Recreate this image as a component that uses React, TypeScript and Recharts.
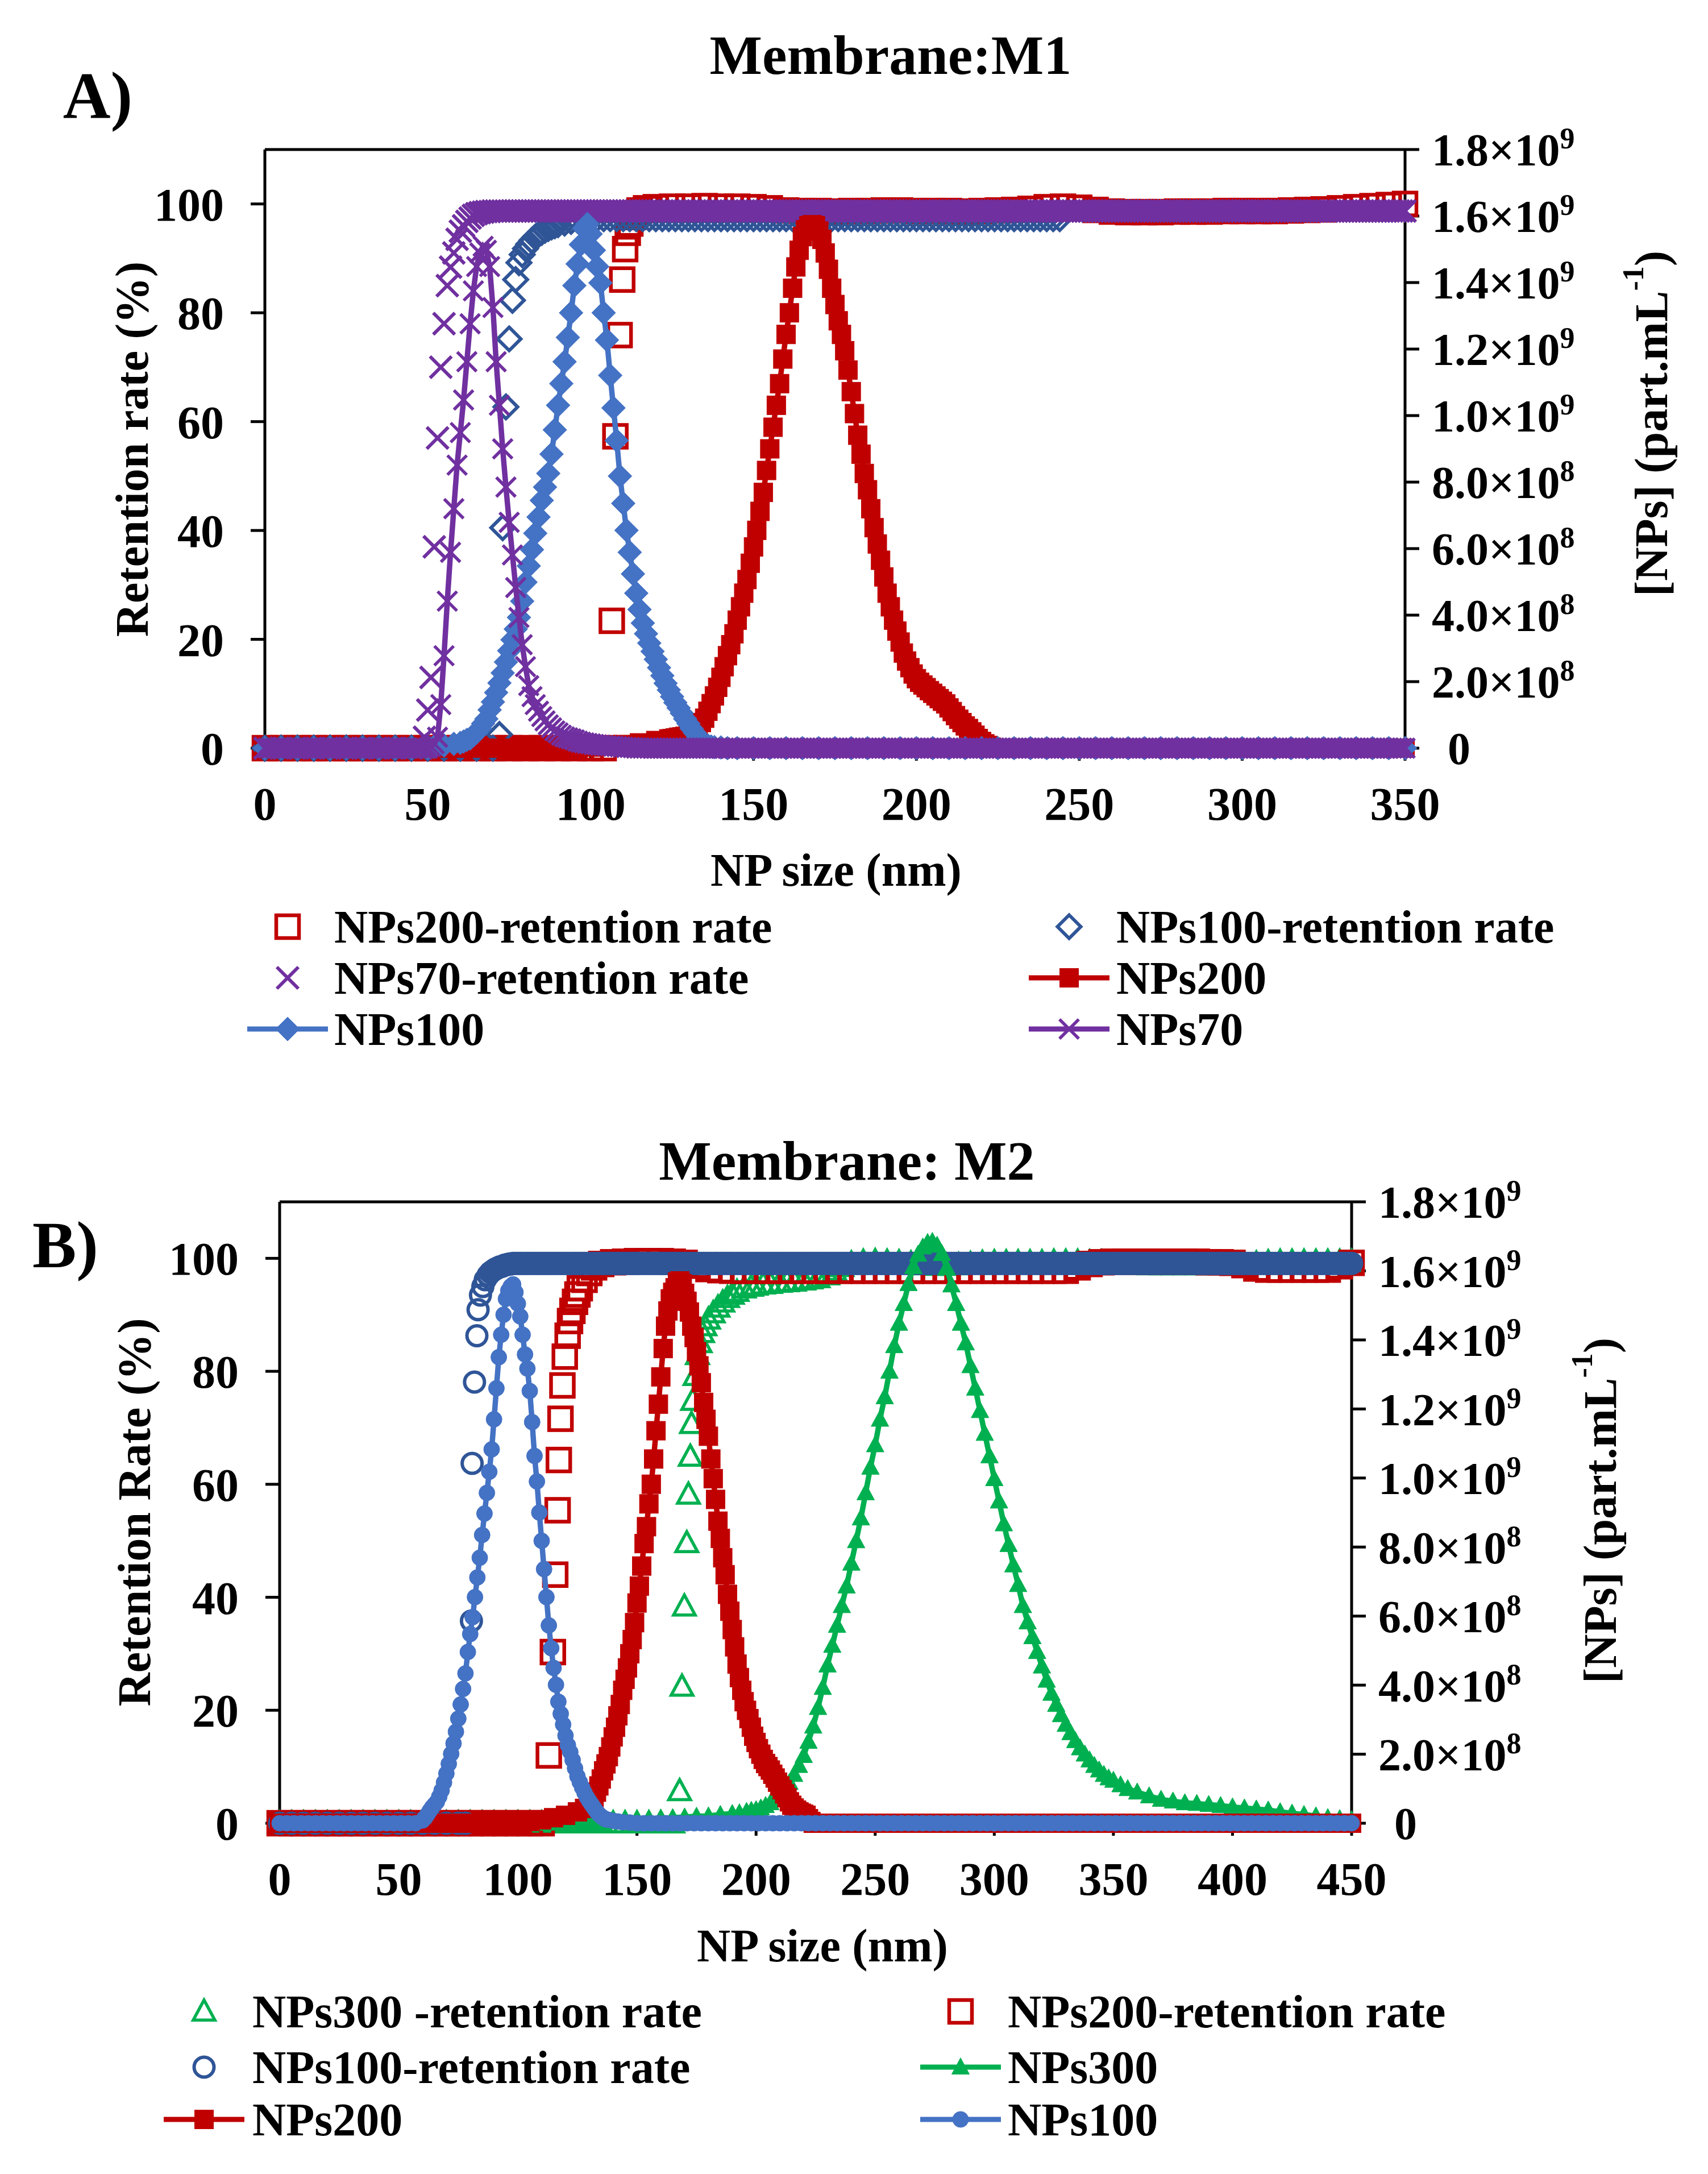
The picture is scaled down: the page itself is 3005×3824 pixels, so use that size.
import React from "react";
import { ComposedChart, Scatter, XAxis, YAxis, ReferenceLine } from "recharts";

type Pt = [number, number];
type Kind = "square" | "diamond" | "x" | "circle" | "triangle";
type Mk = { kind: Kind; color: string; size: number; filled: boolean; sw: number };

const FONT = "'Liberation Serif', 'Times New Roman', serif";
const RED = "#C00000";
const PURPLE = "#7030A0";
const NAVY = "#2F5597";
const BLUE = "#4472C4";
const GREEN = "#00B050";

// axis ticks
const sizeTicksA = [0, 50, 100, 150, 200, 250, 300, 350];
const sizeTicksB = [0, 50, 100, 150, 200, 250, 300, 350, 400, 450];
const rateTicks = [0, 20, 40, 60, 80, 100];
const concTicks = [0, 2, 4, 6, 8, 10, 12, 14, 16, 18]; // x10^8 part/mL

// ---------- Membrane M1 : [size nm, retention %] ----------
const ret200A: Pt[] = [
  [0,0],[5,0],[10,0],[15,0],[20,0],[25,0],[30,0],[35,0],[40,0],[45,0],[50,0],[55,0],[60,0],[65,0],[70,0],[75,0],[80,0],[85,0],[90,0],[95,0],[100,0],[104,0],
  [106.5,23.4],[107.6,57.3],[108.9,75.9],[109.7,86.1],[110.6,91.7],[111.4,94.7],[112.2,96.4],[113,97.6],[114,98.3],[115,98.8],[117,99.2],[120,99.4],
  [125,99.5],[130,99.5],[135,99.6],[140,99.5],[145,99.5],[150,99.4],[155,99.2],[160,98.8],[165,98.7],[170,98.7],[175,98.6],[180,98.7],[185,98.7],
  [190,98.8],[195,98.8],[200,98.7],[205,98.7],[210,98.7],[215,98.6],[220,98.7],[225,98.8],[230,98.9],[235,99.1],[240,99.4],[245,99.5],[250,99.3],
  [255,98.9],[260,98.6],[265,98.5],[270,98.5],[275,98.5],[280,98.6],[285,98.6],[290,98.6],[295,98.7],[300,98.7],[305,98.7],[310,98.7],[315,98.8],
  [320,98.9],[325,99],[330,99.2],[335,99.4],[340,99.6],[345,99.8],[350,100],
];

const ret100A: Pt[] = [
  [0,0],[5,0],[10,0],[15,0],[20,0],[25,0],[30,0],[35,0],[40,0],[45,0],[50,0],[55,0],[60,0],[65,0],[70,0],[72,2.5],
  [73,40.5],[74,62.7],[75,75.2],[76,82.3],[77,86.1],[78,89.2],[79,90.7],[80,91.8],[81,92.6],[82,93.3],[83,93.9],[84,94.4],[85,94.8],
  [86,95.2],[87,95.5],[88,95.8],[89,96],[90,96.2],[92,96.5],[94,96.8],[96,97],[98,97.1],[100,97.2],
  [102,97.3],[104,97.3],[106,97.3],[108,97.3],[110,97.3],[112,97.3],[114,97.3],[116,97.3],[118,97.3],[120,97.3],
  [122,97.3],[124,97.3],[126,97.3],[128,97.3],[130,97.3],[132,97.3],[134,97.3],[136,97.3],[138,97.3],[140,97.3],
  [142,97.3],[144,97.3],[146,97.3],[148,97.3],[150,97.3],[152,97.3],[154,97.3],[156,97.3],[158,97.3],[160,97.3],
  [162,97.3],[164,97.3],[166,97.3],[168,97.3],[170,97.3],[172,97.3],[174,97.3],[176,97.3],[178,97.3],[180,97.3],
  [182,97.3],[184,97.3],[186,97.3],[188,97.3],[190,97.3],[192,97.3],[194,97.3],[196,97.3],[198,97.3],[200,97.3],
  [202,97.3],[204,97.3],[206,97.3],[208,97.3],[210,97.3],[212,97.3],[214,97.3],[216,97.3],[218,97.3],[220,97.3],
  [222,97.3],[224,97.3],[226,97.3],[228,97.3],[230,97.3],[232,97.3],[234,97.3],[236,97.3],[238,97.3],[240,97.3],
  [242,97.3],[244,97.3],
];

const ret70A: Pt[] = [
  [0,0],[5,0],[10,0],[15,0],[20,0],[25,0],[30,0],[35,0],[40,0],[45,0],[48,0],
  [49,2],[50,7],[51,13],[52,37],[53,57],[54,70],[55,78],[56,85],[57,88.4],[58,91],[59,93.5],[60,95],[61,96],[62,96.8],
  [63,97.4],[64,97.9],[65,98.2],[66,98.4],[67,98.5],[68,98.6],[69,98.6],[70,98.7],
  [71,98.7],[72,98.7],[73,98.7],[74,98.7],[75,98.7],[76,98.7],[77,98.7],[78,98.7],[79,98.7],[80,98.7],
  [81,98.7],[82,98.7],[83,98.7],[84,98.7],[85,98.7],[86,98.7],[87,98.7],[88,98.7],[89,98.7],[90,98.7],
  [91,98.7],[92,98.7],[93,98.7],[94,98.7],[95,98.7],[96,98.7],[97,98.7],[98,98.7],[99,98.7],[100,98.7],
  [101,98.7],[102,98.7],[103,98.7],[104,98.7],[105,98.7],[106,98.7],[107,98.7],[108,98.7],[109,98.7],[110,98.7],
  [111,98.7],[112,98.7],[113,98.7],[114,98.7],[115,98.7],[116,98.7],[117,98.7],[118,98.7],[119,98.7],[120,98.7],
  [121,98.7],[122,98.7],[123,98.7],[124,98.7],[125,98.7],[126,98.7],[127,98.7],[128,98.7],[129,98.7],[130,98.7],
  [131,98.7],[132,98.7],[133,98.7],[134,98.7],[135,98.7],[136,98.7],[137,98.7],[138,98.7],[139,98.7],[140,98.7],
  [141,98.7],[142,98.7],[143,98.7],[144,98.7],[145,98.7],[146,98.7],[147,98.7],[148,98.7],[149,98.7],[150,98.7],
  [151,98.7],[152,98.7],[153,98.7],[154,98.7],[155,98.7],[156,98.7],[157,98.7],[158,98.7],[159,98.7],[160,98.7],
  [161,98.7],[162,98.7],[163,98.7],[164,98.7],[165,98.7],[166,98.7],[167,98.7],[168,98.7],[169,98.7],[170,98.7],
  [171,98.7],[172,98.7],[173,98.7],[174,98.7],[175,98.7],[176,98.7],[177,98.7],[178,98.7],[179,98.7],[180,98.7],
  [181,98.7],[182,98.7],[183,98.7],[184,98.7],[185,98.7],[186,98.7],[187,98.7],[188,98.7],[189,98.7],[190,98.7],
  [191,98.7],[192,98.7],[193,98.7],[194,98.7],[195,98.7],[196,98.7],[197,98.7],[198,98.7],[199,98.7],[200,98.7],
  [201,98.7],[202,98.7],[203,98.7],[204,98.7],[205,98.7],[206,98.7],[207,98.7],[208,98.7],[209,98.7],[210,98.7],
  [211,98.7],[212,98.7],[213,98.7],[214,98.7],[215,98.7],[216,98.7],[217,98.7],[218,98.7],[219,98.7],[220,98.7],
  [221,98.7],[222,98.7],[223,98.7],[224,98.7],[225,98.7],[226,98.7],[227,98.7],[228,98.7],[229,98.7],[230,98.7],
  [231,98.7],[232,98.7],[233,98.7],[234,98.7],[235,98.7],[236,98.7],[237,98.7],[238,98.7],[239,98.7],[240,98.7],
  [241,98.7],[242,98.7],[243,98.7],[244,98.7],[245,98.7],[246,98.7],[247,98.7],[248,98.7],[249,98.7],[250,98.7],
  [251,98.7],[252,98.7],[253,98.7],[254,98.7],[255,98.7],[256,98.7],[257,98.7],[258,98.7],[259,98.7],[260,98.7],
  [261,98.7],[262,98.7],[263,98.7],[264,98.7],[265,98.7],[266,98.7],[267,98.7],[268,98.7],[269,98.7],[270,98.7],
  [271,98.7],[272,98.7],[273,98.7],[274,98.7],[275,98.7],[276,98.7],[277,98.7],[278,98.7],[279,98.7],[280,98.7],
  [281,98.7],[282,98.7],[283,98.7],[284,98.7],[285,98.7],[286,98.7],[287,98.7],[288,98.7],[289,98.7],[290,98.7],
  [291,98.7],[292,98.7],[293,98.7],[294,98.7],[295,98.7],[296,98.7],[297,98.7],[298,98.7],[299,98.7],[300,98.7],
  [301,98.7],[302,98.7],[303,98.7],[304,98.7],[305,98.7],[306,98.7],[307,98.7],[308,98.7],[309,98.7],[310,98.7],
  [311,98.7],[312,98.7],[313,98.7],[314,98.7],[315,98.7],[316,98.7],[317,98.7],[318,98.7],[319,98.7],[320,98.7],
  [321,98.7],[322,98.7],[323,98.7],[324,98.7],[325,98.7],[326,98.7],[327,98.7],[328,98.7],[329,98.7],[330,98.7],
  [331,98.7],[332,98.7],[333,98.7],[334,98.7],[335,98.7],[336,98.7],[337,98.7],[338,98.7],[339,98.7],[340,98.7],
  [341,98.7],[342,98.7],[343,98.7],[344,98.7],[345,98.7],[346,98.7],[347,98.7],[348,98.7],[349,98.7],[350,98.7],
];

// ---------- Membrane M1 : [size nm, concentration x10^8 part/mL] ----------
const conc200A: Pt[] = [
  [0,0],[5,0],[10,0],[15,0],[20,0],[25,0],[30,0],[35,0],[40,0],[45,0],[50,0],[55,0],[60,0],[65,0],[70,0],[75,0],[80,0],[85,0],[90,0],[95,0],
  [100,0.03],[105,0.07],[110,0.11],[115,0.16],[120,0.23],[124,0.28],[125,0.29],[126,0.31],[127,0.33],[128,0.34],[129,0.36],
  [130,0.39],[131,0.43],[132,0.52],[133,0.64],[134,0.77],[135,0.9],[136,1.11],[137,1.34],[138,1.57],[139,1.83],
  [140,2.13],[141,2.45],[142,2.78],[143,3.11],[144,3.44],[145,3.85],[146,4.25],[147,4.66],[148,5.07],[149,5.56],
  [150,6.05],[151,6.55],[152,7.12],[153,7.69],[154,8.35],[155,9.0],[156,9.65],[157,10.31],[158,10.96],[159,11.7],
  [160,12.44],[161,13.09],[162,13.83],[163,14.47],[164,14.97],[165,15.38],[166,15.59],[167,15.71],[168,15.74],[169,15.71],
  [170,15.55],[171,15.3],[172,14.89],[173,14.4],[174,13.83],[175,13.34],[176,12.85],[177,12.44],[178,11.95],[179,11.37],
  [180,10.72],[181,10.06],[182,9.41],[183,8.84],[184,8.26],[185,7.77],[186,7.2],[187,6.63],[188,6.14],[189,5.65],
  [190,5.15],[191,4.66],[192,4.25],[193,3.85],[194,3.52],[195,3.19],[196,2.86],[197,2.62],[198,2.42],[199,2.23],
  [200,2.09],[201,1.98],[202,1.9],[203,1.82],[204,1.73],[205,1.65],[206,1.57],[207,1.49],[208,1.41],[209,1.33],
  [210,1.21],[211,1.1],[212,0.98],[213,0.87],[214,0.77],[215,0.67],[216,0.59],[217,0.49],[218,0.39],[219,0.29],
  [220,0.2],[221,0.13],[222,0.08],[223,0.03],[224,0],
  [230,0],[235,0],[240,0],[245,0],[250,0],[255,0],[260,0],[265,0],[270,0],[275,0],[280,0],[285,0],[290,0],[295,0],
  [300,0],[305,0],[310,0],[315,0],[320,0],[325,0],[330,0],[335,0],[340,0],[345,0],[350,0],
];

const conc100A: Pt[] = [
  [0,0],[5,0],[10,0],[15,0],[20,0],[25,0],[30,0],[35,0],[40,0],[45,0],[50,0],[52,0.05],[55,0.08],[58,0.13],
  [60,0.16],[61,0.2],[62,0.25],[63,0.29],[64,0.38],[65,0.47],[66,0.59],[67,0.74],[68,0.88],[69,1.15],
  [70,1.39],[71,1.67],[72,1.96],[73,2.26],[74,2.59],[75,2.93],[76,3.26],[77,3.58],[78,3.93],[79,4.42],
  [80,4.99],[81,5.48],[82,5.97],[83,6.46],[84,6.95],[85,7.45],[86,7.85],[87,8.26],[88,8.84],[89,9.57],
  [90,10.31],[91,10.96],[92,11.62],[93,12.35],[94,13.09],[95,13.91],[96,14.56],[97,15.14],[98,15.63],[99,15.76],
  [100,15.46],[101,14.97],[102,14.48],[103,13.99],[104,13.09],[105,12.27],[106,11.21],[107,10.23],[108,9.25],[109,8.18],
  [110,7.36],[111,6.55],[112,5.89],[113,5.24],[114,4.66],[115,4.17],[116,3.76],[117,3.44],[118,3.16],[119,2.91],
  [120,2.67],[121,2.42],[122,2.18],[123,1.95],[124,1.75],[125,1.55],[126,1.37],[127,1.21],[128,1.05],[129,0.88],
  [130,0.74],[131,0.59],[132,0.46],[133,0.33],[134,0.21],[135,0.13],[136,0.08],[137,0.05],[138,0.03],[140,0.02],[142,0],
  [145,0],[150,0],[155,0],[160,0],[165,0],[170,0],[175,0],[180,0],[185,0],[190,0],[195,0],[200,0],[205,0],[210,0],
  [215,0],[220,0],[225,0],[230,0],[235,0],[240,0],[245,0],[250,0],[255,0],[260,0],[265,0],[270,0],[275,0],[280,0],
  [285,0],[290,0],[295,0],[300,0],[305,0],[310,0],[315,0],[320,0],[325,0],[330,0],[335,0],[340,0],[345,0],[350,0],
];

const conc70A: Pt[] = [
  [0,0],[1,0],[2,0],[3,0],[4,0],[5,0],[6,0],[7,0],[8,0],[9,0],[10,0],
  [11,0],[12,0],[13,0],[14,0],[15,0],[16,0],[17,0],[18,0],[19,0],[20,0],
  [21,0],[22,0],[23,0],[24,0],[25,0],[26,0],[27,0],[28,0],[29,0],[30,0],
  [31,0],[32,0],[33,0],[34,0],[35,0],[36,0],[37,0],[38,0],[39,0],[40,0],
  [41,0],[42,0],[43,0],[44,0],[45,0],[46,0],[47,0],[48,0],[49,0],[50,0],
  [51,0.05],[52,0.13],[53,0.33],[54,1.31],[55,2.78],[56,4.42],[57,5.89],[58,7.2],[59,8.51],
  [60,9.49],[61,10.47],[62,11.62],[63,12.76],[64,13.75],[65,14.48],[66,14.89],[67,15.09],[68,14.97],[69,14.48],
  [70,13.25],[71,11.62],[72,10.31],[73,9.0],[74,7.85],[75,6.79],[76,5.81],[77,4.83],[78,3.93],[79,3.11],
  [80,2.45],[81,1.88],[82,1.55],[83,1.31],[84,1.11],[85,0.95],[86,0.82],[87,0.7],[88,0.61],[89,0.52],
  [90,0.46],[91,0.39],[92,0.34],[93,0.31],[94,0.28],[95,0.25],[96,0.21],[97,0.18],[98,0.16],[99,0.14],
  [100,0.13],[101,0.11],[102,0.1],[103,0.09],[104,0.08],[105,0.07],[106,0.07],[107,0.06],[108,0.05],[109,0.04],
  [110,0.03],[111,0.02],[112,0.02],[113,0.01],[114,0],[115,0],[116,0],[117,0],[118,0],[119,0],[120,0],
  [121,0],[122,0],[123,0],[124,0],[125,0],[126,0],[127,0],[128,0],[129,0],[130,0],
  [131,0],[132,0],[133,0],[134,0],[135,0],[136,0],[137,0],[138,0],[139,0],[140,0],
  [141,0],[142,0],[143,0],[144,0],[145,0],[146,0],[147,0],[148,0],[149,0],[150,0],
  [151,0],[152,0],[153,0],[154,0],[155,0],[156,0],[157,0],[158,0],[159,0],[160,0],
  [161,0],[162,0],[163,0],[164,0],[165,0],[166,0],[167,0],[168,0],[169,0],[170,0],
  [171,0],[172,0],[173,0],[174,0],[175,0],[176,0],[177,0],[178,0],[179,0],[180,0],
  [181,0],[182,0],[183,0],[184,0],[185,0],[186,0],[187,0],[188,0],[189,0],[190,0],
  [191,0],[192,0],[193,0],[194,0],[195,0],[196,0],[197,0],[198,0],[199,0],[200,0],
  [201,0],[202,0],[203,0],[204,0],[205,0],[206,0],[207,0],[208,0],[209,0],[210,0],
  [211,0],[212,0],[213,0],[214,0],[215,0],[216,0],[217,0],[218,0],[219,0],[220,0],
  [221,0],[222,0],[223,0],[224,0],[225,0],[226,0],[227,0],[228,0],[229,0],[230,0],
  [231,0],[232,0],[233,0],[234,0],[235,0],[236,0],[237,0],[238,0],[239,0],[240,0],
  [241,0],[242,0],[243,0],[244,0],[245,0],[246,0],[247,0],[248,0],[249,0],[250,0],
  [251,0],[252,0],[253,0],[254,0],[255,0],[256,0],[257,0],[258,0],[259,0],[260,0],
  [261,0],[262,0],[263,0],[264,0],[265,0],[266,0],[267,0],[268,0],[269,0],[270,0],
  [271,0],[272,0],[273,0],[274,0],[275,0],[276,0],[277,0],[278,0],[279,0],[280,0],
  [281,0],[282,0],[283,0],[284,0],[285,0],[286,0],[287,0],[288,0],[289,0],[290,0],
  [291,0],[292,0],[293,0],[294,0],[295,0],[296,0],[297,0],[298,0],[299,0],[300,0],
  [301,0],[302,0],[303,0],[304,0],[305,0],[306,0],[307,0],[308,0],[309,0],[310,0],
  [311,0],[312,0],[313,0],[314,0],[315,0],[316,0],[317,0],[318,0],[319,0],[320,0],
  [321,0],[322,0],[323,0],[324,0],[325,0],[326,0],[327,0],[328,0],[329,0],[330,0],
  [331,0],[332,0],[333,0],[334,0],[335,0],[336,0],[337,0],[338,0],[339,0],[340,0],
  [341,0],[342,0],[343,0],[344,0],[345,0],[346,0],[347,0],[348,0],[349,0],[350,0],
];

// ---------- Membrane M2 : [size nm, retention %] ----------
const ret300B: Pt[] = [
  [0,0],[5,0],[10,0],[15,0],[20,0],[25,0],[30,0],[35,0],[40,0],[45,0],[50,0],[55,0],[60,0],[65,0],[70,0],[75,0],[80,0],
  [85,0],[90,0],[95,0],[100,0],[105,0],[110,0],[115,0],[120,0],[125,0],[130,0],[135,0],[140,0],[145,0],[150,0],[155,0],[160,0],[165,0],
  [167.9,5.7],[168.9,24.2],[169.9,38.4],[170.9,49.6],[171.6,58.2],[172.4,64.9],[172.9,70.7],[173.4,74.8],[174.4,79.2],[175.4,82.9],
  [176.5,85],[177.5,86.8],[178.5,88],[180,89.2],[182,90.3],[184,91.3],[186,92.2],[188,93],[190,93.6],[192,94.1],[195,94.7],[198,95],[200,95.2],
  [203,95.4],[206,95.5],[210,95.7],[213,95.8],[216,95.9],[220,96.1],[223,96.3],[226,96.5],[230,97],[233,97.8],[236,98.5],[240,99.1],[245,99.4],[250,99.5],[255,99.4],
  [260,99.3],[265,99.1],[270,98.8],[275,98.7],[280,98.7],[285,98.8],[290,99],[295,99.2],[300,99.3],[305,99.3],[310,99.3],
  [315,99.3],[320,99.3],[325,99.4],[330,99.4],[335,99.4],[340,99.3],[345,99.3],[350,99.2],[355,99.1],[360,98.9],
  [365,98.8],[370,98.8],[375,98.8],[380,98.8],[385,98.8],[390,98.8],[395,98.8],[400,98.9],[405,99],[410,99.1],[415,99.3],
  [420,99.4],[425,99.4],[430,99.4],[435,99.4],[440,99.4],[445,99.4],[450,99.4],
];

const ret200B: Pt[] = [
  [0,0],[5,0],[10,0],[15,0],[20,0],[25,0],[30,0],[35,0],[40,0],[45,0],[50,0],[55,0],[60,0],[65,0],[70,0],[75,0],[80,0],
  [85,0],[90,0],[95,0],[100,0],[105,0],[110,0],
  [113,12],[114.7,30.3],[115.7,44],[116.7,55.4],[117.2,64.3],[117.9,71.6],[118.7,77.5],[119.7,82.6],[120.9,86.3],[121.9,88.9],
  [122.9,90.7],[124,92.3],[125,93.6],[126,94.7],[128,96.2],[130,97.4],[132,98.4],[135,99],[140,99.3],[145,99.4],[150,99.5],
  [155,99.5],[160,99.5],[165,99.4],[170,99.2],[175,98.7],[180,98.1],[185,97.9],[190,97.8],[195,97.8],[200,97.8],[205,97.8],
  [210,97.8],[215,97.8],[220,97.8],[225,97.8],[230,97.8],[235,97.8],[240,97.8],[245,97.8],[250,97.8],[255,97.8],[260,97.8],
  [265,97.8],[270,97.8],[275,97.8],[280,97.8],[285,97.8],[290,97.8],[295,97.8],[300,97.8],[305,97.8],[310,97.8],[315,97.8],
  [320,97.8],[325,97.8],[330,97.8],[335,98.4],[340,99],[345,99.3],[350,99.4],[355,99.4],[360,99.4],[365,99.4],
  [370,99.4],[375,99.4],[380,99.4],[385,99.4],[390,99.3],[395,99.3],[400,99.2],[405,98.8],[410,98.2],[415,98],
  [420,98],[425,98],[430,98],[435,98],[440,98],[445,98.6],[450,99.2],
];

const ret100B: Pt[] = [
  [0,0],[5,0],[10,0],[15,0],[20,0],[25,0],[30,0],[35,0],[40,0],[45,0],[50,0],[55,0],[60,0],[65,0],[70,0],[75,0],[78,0],
  [80.5,35.8],[80.8,63.7],[81.8,78.1],[82.8,86.3],[83.3,90.9],[84.3,93.5],[85.3,95],[86.3,96.2],[87.5,97],[88.5,97.5],
  [89.5,97.8],[90.5,98.1],[91.5,98.3],[92.5,98.5],[93.5,98.6],[94.5,98.8],[95.5,98.9],[96.5,99],
  [97,99],[98,99.1],[99,99.1],[100,99.1],[101,99.1],[102,99.1],[103,99.1],[104,99.1],[105,99.1],[106,99.1],
  [107,99.1],[108,99.1],[109,99.1],[110,99.1],[111,99.1],[112,99.1],[113,99.1],[114,99.1],[115,99.1],[116,99.1],
  [117,99.1],[118,99.1],[119,99.1],[120,99.1],[121,99.1],[122,99.1],[123,99.1],[124,99.1],[125,99.1],[126,99.1],
  [127,99.1],[128,99.1],[129,99.1],[130,99.1],[131,99.1],[132,99.1],[133,99.1],[134,99.1],[135,99.1],[136,99.1],
  [137,99.1],[138,99.1],[139,99.1],[140,99.1],[141,99.1],[142,99.1],[143,99.1],[144,99.1],[145,99.1],[146,99.1],
  [147,99.1],[148,99.1],[149,99.1],[150,99.1],[151,99.1],[152,99.1],[153,99.1],[154,99.1],[155,99.1],[156,99.1],
  [157,99.1],[158,99.1],[159,99.1],[160,99.1],[161,99.1],[162,99.1],[163,99.1],[164,99.1],[165,99.1],[166,99.1],
  [167,99.1],[168,99.1],[169,99.1],[170,99.1],[171,99.1],[172,99.1],[173,99.1],[174,99.1],[175,99.1],[176,99.1],
  [177,99.1],[178,99.1],[179,99.1],[180,99.1],[181,99.1],[182,99.1],[183,99.1],[184,99.1],[185,99.1],[186,99.1],
  [187,99.1],[188,99.1],[189,99.1],[190,99.1],[191,99.1],[192,99.1],[193,99.1],[194,99.1],[195,99.1],[196,99.1],
  [197,99.1],[198,99.1],[199,99.1],[200,99.1],[201,99.1],[202,99.1],[203,99.1],[204,99.1],[205,99.1],[206,99.1],
  [207,99.1],[208,99.1],[209,99.1],[210,99.1],[211,99.1],[212,99.1],[213,99.1],[214,99.1],[215,99.1],[216,99.1],
  [217,99.1],[218,99.1],[219,99.1],[220,99.1],[221,99.1],[222,99.1],[223,99.1],[224,99.1],[225,99.1],[226,99.1],
  [227,99.1],[228,99.1],[229,99.1],[230,99.1],[231,99.1],[232,99.1],[233,99.1],[234,99.1],[235,99.1],[236,99.1],
  [237,99.1],[238,99.1],[239,99.1],[240,99.1],[241,99.1],[242,99.1],[243,99.1],[244,99.1],[245,99.1],[246,99.1],
  [247,99.1],[248,99.1],[249,99.1],[250,99.1],[251,99.1],[252,99.1],[253,99.1],[254,99.1],[255,99.1],[256,99.1],
  [257,99.1],[258,99.1],[259,99.1],[260,99.1],[261,99.1],[262,99.1],[263,99.1],[264,99.1],[265,99.1],[266,99.1],
  [267,99.1],[268,99.1],[269,99.1],[270,99.1],[271,99.1],[272,99.1],[273,99.1],[274,99.1],[275,99.1],[276,99.1],
  [277,99.1],[278,99.1],[279,99.1],[280,99.1],[281,99.1],[282,99.1],[283,99.1],[284,99.1],[285,99.1],[286,99.1],
  [287,99.1],[288,99.1],[289,99.1],[290,99.1],[291,99.1],[292,99.1],[293,99.1],[294,99.1],[295,99.1],[296,99.1],
  [297,99.1],[298,99.1],[299,99.1],[300,99.1],[301,99.1],[302,99.1],[303,99.1],[304,99.1],[305,99.1],[306,99.1],
  [307,99.1],[308,99.1],[309,99.1],[310,99.1],[311,99.1],[312,99.1],[313,99.1],[314,99.1],[315,99.1],[316,99.1],
  [317,99.1],[318,99.1],[319,99.1],[320,99.1],[321,99.1],[322,99.1],[323,99.1],[324,99.1],[325,99.1],[326,99.1],
  [327,99.1],[328,99.1],[329,99.1],[330,99.1],[331,99.1],[332,99.1],[333,99.1],[334,99.1],[335,99.1],[336,99.1],
  [337,99.1],[338,99.1],[339,99.1],[340,99.1],[341,99.1],[342,99.1],[343,99.1],[344,99.1],[345,99.1],[346,99.1],
  [347,99.1],[348,99.1],[349,99.1],[350,99.1],[351,99.1],[352,99.1],[353,99.1],[354,99.1],[355,99.1],[356,99.1],
  [357,99.1],[358,99.1],[359,99.1],[360,99.1],[361,99.1],[362,99.1],[363,99.1],[364,99.1],[365,99.1],[366,99.1],
  [367,99.1],[368,99.1],[369,99.1],[370,99.1],[371,99.1],[372,99.1],[373,99.1],[374,99.1],[375,99.1],[376,99.1],
  [377,99.1],[378,99.1],[379,99.1],[380,99.1],[381,99.1],[382,99.1],[383,99.1],[384,99.1],[385,99.1],[386,99.1],
  [387,99.1],[388,99.1],[389,99.1],[390,99.1],[391,99.1],[392,99.1],[393,99.1],[394,99.1],[395,99.1],[396,99.1],
  [397,99.1],[398,99.1],[399,99.1],[400,99.1],[401,99.1],[402,99.1],[403,99.1],[404,99.1],[405,99.1],[406,99.1],
  [407,99.1],[408,99.1],[409,99.1],[410,99.1],[411,99.1],[412,99.1],[413,99.1],[414,99.1],[415,99.1],[416,99.1],
  [417,99.1],[418,99.1],[419,99.1],[420,99.1],[421,99.1],[422,99.1],[423,99.1],[424,99.1],[425,99.1],[426,99.1],
  [427,99.1],[428,99.1],[429,99.1],[430,99.1],[431,99.1],[432,99.1],[433,99.1],[434,99.1],[435,99.1],[436,99.1],
  [437,99.1],[438,99.1],[439,99.1],[440,99.1],[441,99.1],[442,99.1],[443,99.1],[444,99.1],[445,99.1],[446,99.1],
  [447,99.1],[448,99.1],[449,99.1],[450,99.1],
];

// ---------- Membrane M2 : [size nm, concentration x10^8 part/mL] ----------
const conc300B: Pt[] = [
  [0,0],[5,0],[10,0],[15,0],[20,0],[25,0],[30,0],[35,0],[40,0],[45,0],[50,0],[55,0],[60,0],[65,0],[70,0],[75,0],[80,0],
  [85,0],[90,0],[95,0],[100,0],[105,0],[110,0],[115,0],[120,0],[125,0],[130,0],[135,0],
  [140,0.08],[145,0.1],[150,0.11],[155,0.13],[160,0.15],[165,0.16],[170,0.18],[175,0.2],[180,0.21],[185,0.25],[190,0.28],
  [193,0.3],[196,0.34],[198,0.37],[200,0.39],[202,0.44],[204,0.51],[206,0.59],[208,0.69],[210,0.82],[212,0.98],[214,1.18],
  [216,1.41],[218,1.67],[220,1.96],[222,2.37],[224,2.81],[226,3.35],[228,3.93],[230,4.58],[232,5.15],[234,5.73],[236,6.3],
  [238,6.87],[240,7.53],[242,8.18],[244,8.84],[246,9.57],[248,10.31],[250,10.96],[252,11.7],[254,12.35],[256,13.09],
  [258,13.83],[260,14.48],[262,15.05],[264,15.63],[266,16.12],[268,16.48],[270,16.69],[272,16.82],[274,16.85],[276,16.74],
  [278,16.5],[280,16.09],[282,15.59],[284,15.05],[286,14.48],[288,13.91],[290,13.25],[292,12.6],[294,11.95],[296,11.29],
  [298,10.64],[300,9.98],[302,9.33],[304,8.67],[306,8.07],[308,7.48],[310,6.91],[312,6.3],[314,5.83],[316,5.4],
  [318,4.97],[320,4.55],[322,4.14],[324,3.76],[326,3.44],[328,3.14],[330,2.86],[332,2.62],[334,2.39],[336,2.18],
  [338,2.0],[340,1.83],[342,1.67],[344,1.54],[346,1.41],[348,1.31],[350,1.24],[353,1.11],[356,1.0],[360,0.9],
  [365,0.79],[370,0.69],[375,0.64],[380,0.59],[385,0.57],[390,0.54],[395,0.51],[400,0.47],[405,0.44],[410,0.41],
  [415,0.38],[420,0.33],[425,0.29],[430,0.25],[435,0.21],[440,0.16],[445,0.13],[450,0.1],
];

const conc200B: Pt[] = [
  [0,0],[5,0],[10,0],[15,0],[20,0],[25,0],[30,0],[35,0],[40,0],[45,0],[50,0],[55,0],[60,0],[65,0],[70,0],[75,0],[80,0],
  [85,0],[90,0],[95,0],[100,0],[105,0.05],[110,0.1],[115,0.16],[120,0.23],[125,0.33],[128,0.43],
  [130,0.54],[131,0.62],[132,0.74],[133,0.9],[134,1.08],[135,1.28],[136,1.52],[137,1.72],[138,1.93],[139,2.21],
  [140,2.5],[141,2.78],[142,3.11],[143,3.44],[144,3.85],[145,4.17],[146,4.5],[147,4.91],[148,5.32],[149,5.81],
  [150,6.38],[151,6.87],[152,7.45],[153,8.1],[154,8.59],[155,9.25],[156,9.82],[157,10.55],[158,11.37],[159,12.14],
  [160,12.93],[161,13.75],[162,14.4],[163,14.84],[164,15.19],[165,15.38],[166,15.51],[167,15.68],[168,15.71],[169,15.63],
  [170,15.35],[171,15.12],[172,14.81],[173,14.4],[174,14.07],[175,13.66],[176,13.25],[177,12.76],[178,12.19],[179,11.7],
  [180,11.21],[181,10.55],[182,9.98],[183,9.38],[184,8.75],[185,8.25],[186,7.69],[187,7.2],[188,6.63],[189,6.14],
  [190,5.61],[191,5.11],[192,4.61],[193,4.22],[194,3.85],[195,3.52],[196,3.27],[197,3.03],[198,2.78],[199,2.52],
  [200,2.34],[201,2.16],[202,2.0],[203,1.85],[204,1.73],[205,1.64],[206,1.54],[207,1.42],[208,1.31],[209,1.19],
  [210,1.08],[211,0.97],[212,0.85],[213,0.74],[214,0.62],[215,0.52],[216,0.44],[217,0.38],[218,0.33],[219,0.29],
  [220,0.26],[221,0.23],[222,0.13],[223,0.05],[224,0],
  [230,0],[235,0],[240,0],[245,0],[250,0],[255,0],[260,0],[265,0],[270,0],[275,0],[280,0],[285,0],[290,0],[295,0],
  [300,0],[305,0],[310,0],[315,0],[320,0],[325,0],[330,0],[335,0],[340,0],[345,0],[350,0],[355,0],[360,0],[365,0],
  [370,0],[375,0],[380,0],[385,0],[390,0],[395,0],[400,0],[405,0],[410,0],[415,0],[420,0],[425,0],[430,0],[435,0],
  [440,0],[445,0],[450,0],
];

const conc100B: Pt[] = [
  [0,0],[3,0],[6,0],[9,0],[12,0],[15,0],[18,0],[21,0],[24,0],[27,0],[30,0],[33,0],[36,0],[39,0],[42,0],[45,0],
  [48,0],[51,0],[54,0],[57,0],
  [60,0.08],[61,0.15],[62,0.25],[63,0.36],[64,0.46],[65,0.54],[66,0.62],[67,0.77],[68,0.95],[69,1.18],
  [70,1.44],[71,1.72],[72,2.01],[73,2.31],[74,2.65],[75,3.03],[76,3.44],[77,3.89],[78,4.34],[79,4.96],
  [80,5.48],[81,5.97],[82,6.55],[83,7.12],[84,7.69],[85,8.35],[86,8.97],[87,9.57],[88,10.18],[89,10.83],
  [90,11.7],[91,12.6],[92,13.5],[93,14.15],[94,14.73],[95,15.19],[96,15.43],[97,15.55],[98,15.61],[99,15.38],
  [100,15.05],[101,14.68],[102,14.15],[103,13.58],[104,13.17],[105,12.52],[106,11.62],[107,10.64],[108,9.9],[109,9.0],
  [110,8.18],[111,7.36],[112,6.55],[113,5.73],[114,5.07],[115,4.5],[116,4.01],[117,3.52],[118,3.17],[119,2.86],
  [120,2.54],[121,2.26],[122,2.06],[123,1.83],[124,1.59],[125,1.36],[126,1.19],[127,1.03],[128,0.88],[129,0.75],
  [130,0.64],[131,0.54],[132,0.44],[133,0.34],[134,0.26],[135,0.2],[136,0.15],[137,0.11],[138,0.1],[140,0.07],
  [142,0.05],[144,0.03],[147,0.02],
  [150,0],[153,0],[156,0],[159,0],[162,0],[165,0],[168,0],[171,0],[174,0],[177,0],
  [180,0],[183,0],[186,0],[189,0],[192,0],[195,0],[198,0],[201,0],[204,0],[207,0],
  [210,0],[213,0],[216,0],[219,0],[222,0],[225,0],[228,0],[231,0],[234,0],[237,0],
  [240,0],[243,0],[246,0],[249,0],[252,0],[255,0],[258,0],[261,0],[264,0],[267,0],
  [270,0],[273,0],[276,0],[279,0],[282,0],[285,0],[288,0],[291,0],[294,0],[297,0],
  [300,0],[303,0],[306,0],[309,0],[312,0],[315,0],[318,0],[321,0],[324,0],[327,0],
  [330,0],[333,0],[336,0],[339,0],[342,0],[345,0],[348,0],[351,0],[354,0],[357,0],
  [360,0],[363,0],[366,0],[369,0],[372,0],[375,0],[378,0],[381,0],[384,0],[387,0],
  [390,0],[393,0],[396,0],[399,0],[402,0],[405,0],[408,0],[411,0],[414,0],[417,0],
  [420,0],[423,0],[426,0],[429,0],[432,0],[435,0],[438,0],[441,0],[444,0],[447,0],[450,0],
];

// ---------- marker styles ----------
const mk = {
  ret200A: { kind: "square", color: RED, size: 40, filled: false, sw: 6.5 } as Mk,
  ret100A: { kind: "diamond", color: NAVY, size: 41, filled: false, sw: 6 } as Mk,
  ret70A: { kind: "x", color: PURPLE, size: 38, filled: false, sw: 6 } as Mk,
  conc200A: { kind: "square", color: RED, size: 33, filled: true, sw: 1 } as Mk,
  conc100A: { kind: "diamond", color: BLUE, size: 42, filled: true, sw: 1 } as Mk,
  conc70A: { kind: "x", color: PURPLE, size: 34, filled: false, sw: 5.5 } as Mk,
  ret300B: { kind: "triangle", color: GREEN, size: 38, filled: false, sw: 5.5 } as Mk,
  ret200B: { kind: "square", color: RED, size: 40, filled: false, sw: 6.5 } as Mk,
  ret100B: { kind: "circle", color: NAVY, size: 41, filled: false, sw: 6 } as Mk,
  conc300B: { kind: "triangle", color: GREEN, size: 31, filled: true, sw: 1 } as Mk,
  conc200B: { kind: "square", color: RED, size: 33, filled: true, sw: 1 } as Mk,
  conc100B: { kind: "circle", color: BLUE, size: 28, filled: true, sw: 1 } as Mk,
};

type SeriesDef = { name: string; data: Pt[]; axis: "pct" | "conc"; st: Mk };

const seriesA: SeriesDef[] = [
  { name: "NPs200-retention rate", data: ret200A, axis: "pct", st: mk.ret200A },
  { name: "NPs100-retention rate", data: ret100A, axis: "pct", st: mk.ret100A },
  { name: "NPs70-retention rate", data: ret70A, axis: "pct", st: mk.ret70A },
  { name: "NPs200", data: conc200A, axis: "conc", st: mk.conc200A },
  { name: "NPs100", data: conc100A, axis: "conc", st: mk.conc100A },
  { name: "NPs70", data: conc70A, axis: "conc", st: mk.conc70A },
];

const seriesB: SeriesDef[] = [
  { name: "NPs300 -retention rate", data: ret300B, axis: "pct", st: mk.ret300B },
  { name: "NPs200-retention rate", data: ret200B, axis: "pct", st: mk.ret200B },
  { name: "NPs100-retention rate", data: ret100B, axis: "pct", st: mk.ret100B },
  { name: "NPs300", data: conc300B, axis: "conc", st: mk.conc300B },
  { name: "NPs200", data: conc200B, axis: "conc", st: mk.conc200B },
  { name: "NPs100", data: conc100B, axis: "conc", st: mk.conc100B },
];

function Mark({ cx, cy, st }: { cx: number; cy: number; st: Mk }) {
  if (cx == null || cy == null || isNaN(cx) || isNaN(cy)) return null;
  const h = st.size / 2;
  const paint = st.filled
    ? { fill: st.color, stroke: st.color, strokeWidth: 1 }
    : { fill: "none", stroke: st.color, strokeWidth: st.sw };
  switch (st.kind) {
    case "square":
      return <rect x={cx - h} y={cy - h} width={st.size} height={st.size} {...paint} />;
    case "diamond":
      return <polygon points={`${cx},${cy - h} ${cx + h},${cy} ${cx},${cy + h} ${cx - h},${cy}`} {...paint} />;
    case "circle":
      return <circle cx={cx} cy={cy} r={st.filled ? h : h - st.sw / 2} {...paint} />;
    case "triangle":
      return <polygon points={`${cx},${cy - h * 1.05} ${cx + h},${cy + h * 0.8} ${cx - h},${cy + h * 0.8}`} {...paint} />;
    default:
      return (
        <path
          d={`M${cx - h},${cy - h}L${cx + h},${cy + h}M${cx - h},${cy + h}L${cx + h},${cy - h}`}
          fill="none"
          stroke={st.color}
          strokeWidth={st.sw}
        />
      );
  }
}

const AX = { stroke: "#000", strokeWidth: 5 };
const TICK = { fontFamily: FONT, fontWeight: 700, fontSize: 82, fill: "#000" };

function ConcTick(props: any) {
  const { x, y, payload } = props;
  const v: number = payload.value;
  const style = { fontFamily: FONT, fontWeight: 700, fontSize: 80 };
  if (v === 0) {
    return (
      <text x={x + 28} y={y} dy="0.355em" textAnchor="start" fill="#000" style={style}>
        0
      </text>
    );
  }
  const big = v >= 10;
  const mant = big ? (v / 10).toFixed(1) : v.toFixed(1);
  return (
    <text x={x} y={y} dy="0.355em" textAnchor="start" fill="#000" style={style}>
      {mant}×10
      <tspan dy={-30} fontSize={52}>
        {big ? "9" : "8"}
      </tspan>
    </text>
  );
}

function renderSeries(s: SeriesDef) {
  return (
    <Scatter
      key={s.name}
      name={s.name}
      data={s.data.map(([x, y]) => ({ x, y }))}
      yAxisId={s.axis}
      fill={s.st.color}
      line={s.axis === "conc" ? { stroke: s.st.color, strokeWidth: 9.5 } : false}
      shape={(p: any) => <Mark cx={p.cx} cy={p.cy} st={s.st} />}
      isAnimationActive={false}
    />
  );
}

function Panel(props: {
  top: number;
  margin: { top: number; right: number; bottom: number; left: number };
  xMax: number;
  xTicks: number[];
  series: SeriesDef[];
}) {
  return (
    <div style={{ position: "absolute", left: 0, top: props.top }}>
      <ComposedChart width={3005} height={1500} margin={props.margin}>
        <XAxis
          type="number"
          dataKey="x"
          domain={[0, props.xMax]}
          ticks={props.xTicks}
          interval={0}
          axisLine={AX}
          tickLine={AX}
          tickSize={22}
          tickMargin={46}
          tick={TICK}
          height={150}
        />
        <YAxis
          yAxisId="pct"
          type="number"
          dataKey="y"
          domain={[0, 110]}
          ticks={rateTicks}
          interval={0}
          axisLine={AX}
          tickLine={AX}
          tickSize={25}
          tickMargin={47}
          tick={TICK}
          width={200}
        />
        <YAxis
          yAxisId="conc"
          orientation="right"
          type="number"
          dataKey="y"
          domain={[0, 18]}
          ticks={concTicks}
          interval={0}
          axisLine={AX}
          tickLine={AX}
          tickSize={25}
          tickMargin={22}
          tick={<ConcTick />}
          width={300}
        />
        <ReferenceLine yAxisId="pct" y={110} stroke="#000" strokeWidth={5} />
        {props.series.map(renderSeries)}
      </ComposedChart>
    </div>
  );
}

type LegendRow = { label: string; st: Mk; line: boolean; col: number; row: number };

const legendA: LegendRow[] = [
  { label: "NPs200-retention rate", st: mk.ret200A, line: false, col: 0, row: 0 },
  { label: "NPs100-retention rate", st: mk.ret100A, line: false, col: 1, row: 0 },
  { label: "NPs70-retention rate", st: mk.ret70A, line: false, col: 0, row: 1 },
  { label: "NPs200", st: mk.conc200A, line: true, col: 1, row: 1 },
  { label: "NPs100", st: mk.conc100A, line: true, col: 0, row: 2 },
  { label: "NPs70", st: mk.conc70A, line: true, col: 1, row: 2 },
];

const legendB: LegendRow[] = [
  { label: "NPs300 -retention rate", st: mk.ret300B, line: false, col: 0, row: 0 },
  { label: "NPs200-retention rate", st: mk.ret200B, line: false, col: 1, row: 0 },
  { label: "NPs100-retention rate", st: mk.ret100B, line: false, col: 0, row: 1 },
  { label: "NPs300", st: mk.conc300B, line: true, col: 1, row: 1 },
  { label: "NPs200", st: mk.conc200B, line: true, col: 0, row: 2 },
  { label: "NPs100", st: mk.conc100B, line: true, col: 1, row: 2 },
];

const TXT = { fontFamily: FONT, fontWeight: 700, fill: "#000" };

function LegendBlock(props: { items: LegendRow[]; cols: { mark: number; text: number }[]; rows: number[] }) {
  return (
    <g>
      {props.items.map((it) => {
        const c = props.cols[it.col];
        const y = props.rows[it.row];
        return (
          <g key={it.label}>
            {it.line && <line x1={c.mark - 71} x2={c.mark + 71} y1={y} y2={y} stroke={it.st.color} strokeWidth={9} />}
            <Mark cx={c.mark} cy={y} st={it.st} />
            <text x={c.text} y={y} dominantBaseline="central" fontSize={82} style={TXT}>
              {it.label}
            </text>
          </g>
        );
      })}
    </g>
  );
}

function RightTitle({ x, y }: { x: number; y: number }) {
  return (
    <text transform={`translate(${x},${y}) rotate(-90)`} textAnchor="middle" dominantBaseline="central" fontSize={82} style={TXT}>
      [NPs] (part.mL
      <tspan dy={-32} fontSize={52}>
        -1
      </tspan>
      <tspan dy={32}>)</tspan>
    </text>
  );
}

export default function App() {
  return (
    <div style={{ position: "absolute", left: 0, top: 0, width: 3005, height: 3824, background: "#fff", overflow: "hidden" }}>
      <Panel
        top={0}
        margin={{ top: 263, right: 233, bottom: 34, left: 266 }}
        xMax={350}
        xTicks={sizeTicksA}
        series={seriesA}
      />
      <Panel
        top={1900}
        margin={{ top: 214, right: 327, bottom: 43, left: 292 }}
        xMax={450}
        xTicks={sizeTicksB}
        series={seriesB}
      />
      <svg width={3005} height={3824} style={{ position: "absolute", left: 0, top: 0, pointerEvents: "none" }}>
        {/* panel A */}
        <text x={172} y={168} textAnchor="middle" dominantBaseline="central" fontSize={116} style={TXT}>
          A)
        </text>
        <text x={1567} y={97} textAnchor="middle" dominantBaseline="central" fontSize={98} style={TXT}>
          Membrane:M1
        </text>
        <text transform="translate(232,790) rotate(-90)" textAnchor="middle" dominantBaseline="central" fontSize={82} style={TXT}>
          Retention rate (%)
        </text>
        <RightTitle x={2905} y={745} />
        <text x={1471} y={1530} textAnchor="middle" dominantBaseline="central" fontSize={82} style={TXT}>
          NP size (nm)
        </text>
        <LegendBlock
          items={legendA}
          cols={[{ mark: 506, text: 588 }, { mark: 1881, text: 1964 }]}
          rows={[1630, 1720, 1810]}
        />
        {/* panel B */}
        <text x={115} y={2190} textAnchor="middle" dominantBaseline="central" fontSize={116} style={TXT}>
          B)
        </text>
        <text x={1490} y={2042} textAnchor="middle" dominantBaseline="central" fontSize={98} style={TXT}>
          Membrane: M2
        </text>
        <text transform="translate(236,2660) rotate(-90)" textAnchor="middle" dominantBaseline="central" fontSize={82} style={TXT}>
          Retention Rate (%)
        </text>
        <RightTitle x={2815} y={2657} />
        <text x={1447} y={3422} textAnchor="middle" dominantBaseline="central" fontSize={82} style={TXT}>
          NP size (nm)
        </text>
        <LegendBlock
          items={legendB}
          cols={[{ mark: 359, text: 444 }, { mark: 1690, text: 1773 }]}
          rows={[3538, 3636, 3728]}
        />
      </svg>
    </div>
  );
}
